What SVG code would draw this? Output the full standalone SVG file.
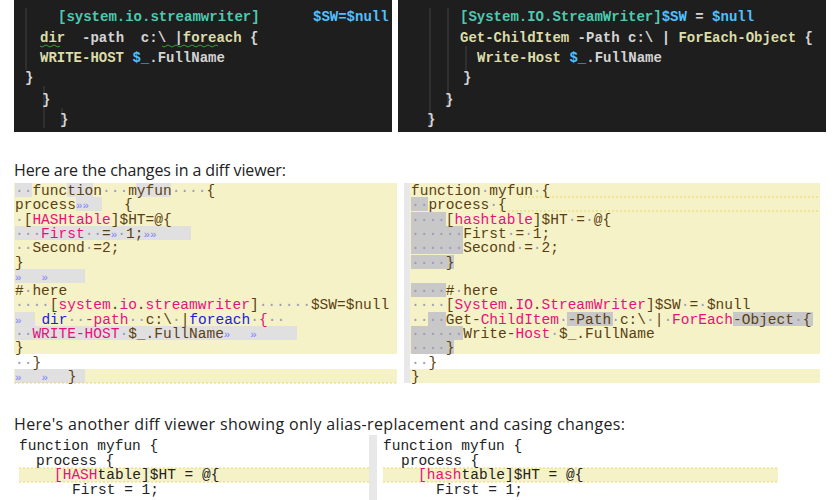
<svg xmlns="http://www.w3.org/2000/svg" width="834" height="500" viewBox="0 0 834 500">
<style>
.dk{font-family:"Liberation Mono",monospace;font-size:14px;fill:#d4d4d4;font-weight:bold}
.kw{fill:#4ec9b0}.vr{fill:#4fc1ff}.cm{fill:#dcdcaa}.pu{fill:#c586c0}
.df{font-family:"Liberation Mono",monospace;font-size:14.5px;fill:#5a4010}
.pk{fill:#e8107a}.bl{fill:#2020e0}.dt{fill:#9a9ab8}.tb{fill:#8080ff;font-size:11px}
.hd{font-family:"Open Sans","Liberation Sans",sans-serif;font-size:16px;fill:#222}
.nr{font-family:"Liberation Mono",monospace;font-size:14.5px;fill:#222}
</style>
<rect width="834" height="500" fill="#fff"/>
<g id="editor-left">
<rect x="14" y="0" width="378" height="132" fill="#1e1e1e"/>
<path d="M26 8V70M44 86V128M62 108V128" stroke="#404040"/>
<text class="dk" xml:space="preserve"><tspan x="58" y="21" fill="#4ec9b0">[system.io.streamwriter]</tspan><tspan x="313" y="21" class="vr">$SW=$null</tspan><tspan x="40" y="42" class="cm">dir</tspan><tspan>  -path  c:\ |</tspan><tspan class="cm">foreach</tspan><tspan> {</tspan><tspan x="40" y="62" class="cm">WRITE-HOST </tspan><tspan class="vr">$_</tspan><tspan>.FullName</tspan><tspan x="25" y="82">}</tspan><tspan x="42" y="104">}</tspan><tspan x="60" y="124">}</tspan></text>
<path d="M40 46q2 2 4 0t4 0 4 0 4 0 4 0M162 46q2 2 4 0t4 0 4 0 4 0 4 0 4 0 4 0 4 0 4 0 4 0 4 0 4 0 4 0 4 0" stroke="#3c9a3c" fill="none"/>
</g>
<g id="editor-right">
<rect x="398" y="0" width="428" height="132" fill="#1e1e1e"/>
<path d="M430 8V128M448 8V108M466 46V70" stroke="#404040"/>
<text class="dk" xml:space="preserve"><tspan x="460" y="21" fill="#4ec9b0">[System.IO.StreamWriter]</tspan><tspan class="vr">$SW</tspan><tspan> = </tspan><tspan class="vr">$null</tspan><tspan x="460" y="42" class="cm">Get-ChildItem</tspan><tspan> -Path c:\ | </tspan><tspan class="cm">ForEach-Object</tspan><tspan> {</tspan><tspan x="477" y="62" class="cm">Write-Host </tspan><tspan class="vr">$_</tspan><tspan>.FullName</tspan><tspan x="463" y="82">}</tspan><tspan x="445" y="104">}</tspan><tspan x="427" y="124">}</tspan></text>
</g>
<text class="hd" x="14" y="176" textLength="272">Here are the changes in a diff viewer:</text>
<g id="diff-left">
<rect x="14" y="183" width="383" height="200" fill="#f5f2c8"/>
<rect x="14" y="354" width="383" height="15" fill="#fff"/>
<g fill="#e0e0e0">
<rect x="15" y="183" width="17" height="14"/><rect x="67" y="183" width="26" height="14"/><rect x="136" y="183" width="35" height="14"/>
<rect x="76" y="197" width="26" height="14"/><rect x="15" y="226" width="176" height="14"/>
<rect x="15" y="269" width="70" height="14"/><rect x="15" y="312" width="20" height="14"/>
<rect x="15" y="326" width="282" height="14"/><rect x="15" y="369" width="70" height="14"/>
</g>
<path d="M14 383H397" stroke="#e8d860" stroke-dasharray="2 2"/>
<text class="df" xml:space="preserve"><tspan x="15" y="195"><tspan class="dt">··</tspan>function<tspan class="dt">···</tspan>myfun<tspan class="dt">····</tspan>{</tspan><tspan x="15" y="209">process<tspan class="tb">»»</tspan>    {</tspan><tspan x="15" y="224"><tspan class="dt">·</tspan>[<tspan class="pk">HASHtable</tspan>]$HT=@{</tspan><tspan x="15" y="238"><tspan class="dt">···</tspan><tspan class="pk">First</tspan><tspan class="dt">··</tspan>=<tspan class="tb">»</tspan><tspan class="dt">·</tspan>1;<tspan class="tb">»»</tspan></tspan><tspan x="15" y="252"><tspan class="dt">··</tspan>Second<tspan class="dt">·</tspan>=2;</tspan><tspan x="15" y="267">}</tspan><tspan x="15" y="281" class="tb">»   »</tspan><tspan x="15" y="295">#<tspan class="dt">·</tspan>here</tspan><tspan x="15" y="309"><tspan class="dt">····</tspan>[<tspan class="pk">system</tspan>.<tspan class="pk">io</tspan>.<tspan class="pk">streamwriter</tspan>]<tspan class="dt">······</tspan>$SW=$null</tspan><tspan x="15" y="324"><tspan class="tb">»   </tspan><tspan class="bl">dir</tspan><tspan class="dt">··</tspan><tspan class="pk">-path</tspan><tspan class="dt">··</tspan>c:\<tspan class="dt">·</tspan>|<tspan class="bl">foreach</tspan><tspan class="dt">·</tspan><tspan class="pk">{</tspan><tspan class="dt">··</tspan></tspan><tspan x="15" y="338"><tspan class="dt">··</tspan><tspan class="pk">WRITE-HOST</tspan><tspan class="dt">·</tspan>$_.FullName<tspan class="tb">»   »</tspan></tspan><tspan x="15" y="352">}</tspan><tspan x="15" y="367"><tspan class="dt">··</tspan>}</tspan><tspan x="15" y="381"><tspan class="tb">»   »   </tspan>}</tspan></text>
</g>
<g id="diff-right">
<rect x="404" y="183" width="6" height="200" fill="#e8e8e8"/>
<rect x="410" y="183" width="410" height="200" fill="#f5f2c8"/>
<rect x="410" y="354" width="410" height="15" fill="#fff"/>
<g fill="#c8c8c8">
<rect x="411" y="197" width="17" height="14"/><rect x="411" y="212" width="35" height="14"/><rect x="411" y="226" width="52" height="14"/><rect x="411" y="240" width="52" height="14"/><rect x="411" y="255" width="43" height="14"/><rect x="411" y="283" width="35" height="14"/><rect x="428" y="312" width="18" height="14"/><rect x="411" y="326" width="52" height="14"/><rect x="411" y="340" width="43" height="14"/><rect x="567" y="312" width="46" height="14"/><rect x="733" y="312" width="80" height="14"/>
</g>
<path d="M520 197H820M500 211H820" stroke="#e8d860" stroke-dasharray="2 2"/>
<text class="df" xml:space="preserve"><tspan x="411" y="195">function<tspan class="dt">·</tspan>myfun<tspan class="dt">·</tspan>{</tspan><tspan x="411" y="209"><tspan class="dt">··</tspan>process<tspan class="dt">·</tspan>{</tspan><tspan x="411" y="224"><tspan class="dt">····</tspan>[<tspan class="pk">hashtable</tspan>]$HT<tspan class="dt">·</tspan>=<tspan class="dt">·</tspan>@{</tspan><tspan x="411" y="238"><tspan class="dt">······</tspan>First<tspan class="dt">·</tspan>=<tspan class="dt">·</tspan>1;</tspan><tspan x="411" y="252"><tspan class="dt">······</tspan>Second<tspan class="dt">·</tspan>=<tspan class="dt">·</tspan>2;</tspan><tspan x="411" y="267"><tspan class="dt">····</tspan>}</tspan><tspan x="411" y="295"><tspan class="dt">····</tspan>#<tspan class="dt">·</tspan>here</tspan><tspan x="411" y="309"><tspan class="dt">····</tspan>[<tspan class="pk">System</tspan>.<tspan class="pk">IO</tspan>.<tspan class="pk">StreamWriter</tspan>]$SW<tspan class="dt">·</tspan>=<tspan class="dt">·</tspan>$null</tspan><tspan x="411" y="324"><tspan class="dt">····</tspan>Get-<tspan class="pk">ChildItem</tspan><tspan class="dt">·</tspan>-Path<tspan class="dt">·</tspan>c:\<tspan class="dt">·</tspan>|<tspan class="dt">·</tspan><tspan class="pk">ForEach</tspan>-Object<tspan class="dt">·</tspan>{</tspan><tspan x="411" y="338"><tspan class="dt">······</tspan>Write-<tspan class="pk">Host</tspan><tspan class="dt">·</tspan>$_.FullName</tspan><tspan x="411" y="352"><tspan class="dt">····</tspan>}</tspan><tspan x="411" y="367"><tspan class="dt">··</tspan>}</tspan><tspan x="411" y="381">}</tspan></text>
</g>
<text class="hd" x="14" y="430" textLength="611">Here's another diff viewer showing only alias-replacement and casing changes:</text>
<g id="diff2">
<rect x="369" y="435" width="8" height="65" fill="#e8e8e8"/>
<rect x="19" y="468" width="350" height="14" fill="#f5f2c8"/>
<rect x="383" y="468" width="395" height="14" fill="#f5f2c8"/>
<path d="M19 468H369M19 482H369M383 468H778M383 482H778" stroke="#e8d860" stroke-dasharray="2 2"/>
<text class="nr" xml:space="preserve"><tspan x="19" y="450">function myfun {</tspan><tspan x="36" y="465">process {</tspan><tspan x="54" y="479"><tspan fill="#e8107a">[HASH</tspan>table]$HT = @{</tspan><tspan x="72" y="494">First = 1;</tspan><tspan x="383" y="450">function myfun {</tspan><tspan x="401" y="465">process {</tspan><tspan x="418" y="479"><tspan fill="#e8107a">[hash</tspan>table]$HT = @{</tspan><tspan x="436" y="494">First = 1;</tspan></text>
</g>
</svg>
